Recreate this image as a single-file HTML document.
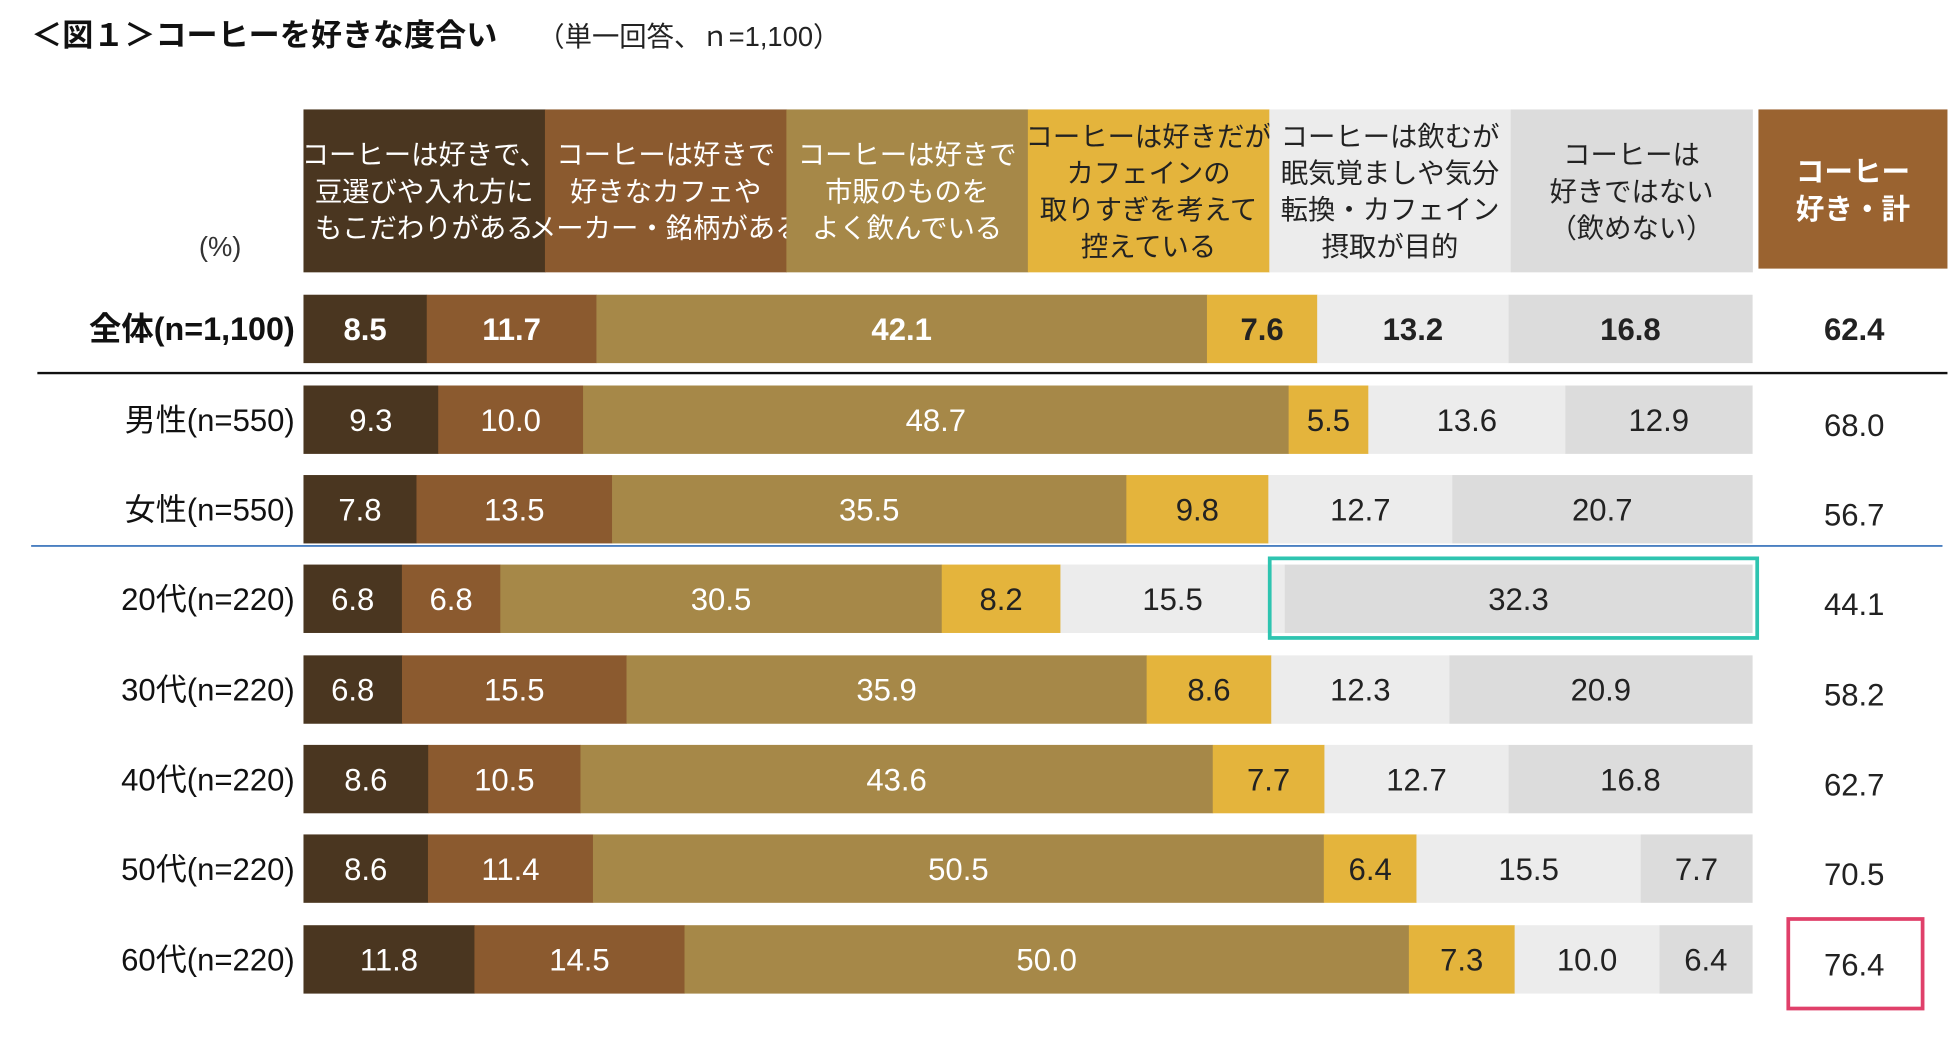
<!DOCTYPE html>
<html><head><meta charset="utf-8">
<style>
html,body{margin:0;padding:0;background:#fff;}
svg{display:block;font-family:"Liberation Sans","Noto Sans CJK JP",sans-serif;}
</style></head>
<body>
<svg id="chart" width="1950" height="1038" viewBox="0 0 1568 834.7" xmlns="http://www.w3.org/2000/svg">
<text x="25" y="37" font-size="25" font-weight="bold" fill="#111">＜図１＞コーヒーを好きな度合い</text>
<text x="432" y="37" font-size="22" fill="#222">（単一回答、ｎ=1,100）</text>
<text x="177" y="206" font-size="22" fill="#333" text-anchor="middle">(%)</text>
<g id="headers"></g>
<g id="rows"></g>
<line x1="30" y1="300" x2="1566" y2="300" stroke="#111" stroke-width="2"/>
<line x1="25" y1="439" x2="1562" y2="439" stroke="#4a7fc1" stroke-width="1.5"/>
<rect x="1021" y="449" width="392" height="64" fill="none" stroke="#2ec4b0" stroke-width="3"/>
<rect x="1438" y="739" width="108" height="72" fill="none" stroke="#e0406a" stroke-width="3"/>
</svg>
<script>
const categories = ["全体(n=1,100)","男性(n=550)","女性(n=550)","20代(n=220)","30代(n=220)","40代(n=220)","50代(n=220)","60代(n=220)"];
const seriesNames = [["コーヒーは好きで、","豆選びや入れ方に","もこだわりがある"],["コーヒーは好きで","好きなカフェや","メーカー・銘柄がある"],["コーヒーは好きで","市販のものを","よく飲んでいる"],["コーヒーは好きだが","カフェインの","取りすぎを考えて","控えている"],["コーヒーは飲むが","眠気覚ましや気分","転換・カフェイン","摂取が目的"],["コーヒーは","好きではない","（飲めない）"]];
const s1 = [8.5,9.3,7.8,6.8,6.8,8.6,8.6,11.8];
const s2 = [11.7,10.0,13.5,6.8,15.5,10.5,11.4,14.5];
const s3 = [42.1,48.7,35.5,30.5,35.9,43.6,50.5,50.0];
const s4 = [7.6,5.5,9.8,8.2,8.6,7.7,6.4,7.3];
const s5 = [13.2,13.6,12.7,15.5,12.3,12.7,15.5,10.0];
const s6 = [16.8,12.9,20.7,32.3,20.9,16.8,7.7,6.4];
const totals = [62.4,68.0,56.7,44.1,58.2,62.7,70.5,76.4];

const NS="http://www.w3.org/2000/svg";
const colors=["#4a3620","#8b5a2f","#a68848","#e4b43c","#ececec","#dcdcdc"];
const textColors=["#fff","#fff","#fff","#222","#222","#222"];
const series=[s1,s2,s3,s4,s5,s6];
const X0=244, W=1165, BAR_H=55;
const rowTops=[237,310,382,454,527,599,671,744];
function xScale(v,sum){return v/sum*W;}
function mk(tag,attrs){const e=document.createElementNS(NS,tag);for(const k in attrs)e.setAttribute(k,attrs[k]);return e;}

const hg=document.getElementById('headers');
const colW=W/6;
seriesNames.forEach((lines,i)=>{
  const r=mk('rect',{x:X0+i*colW,y:88,width:colW+0.5,height:131,fill:colors[i]});
  
  
  hg.appendChild(r);
  const cy=153.5, lh=29.5, start=cy-(lines.length-1)*lh/2;
  lines.forEach((ln,j)=>{
    const t=mk('text',{x:X0+i*colW+colW/2,y:start+j*lh+8,'font-size':22,'text-anchor':'middle',fill:textColors[i]});
    
    
    t.textContent=ln;hg.appendChild(t);
  });
});
const tb=mk('rect',{x:1414,y:88,width:152,height:128,fill:"#9a6330"});


hg.appendChild(tb);
["コーヒー","好き・計"].forEach((ln,j)=>{
  const t=mk('text',{x:1490,y:146+j*30,'font-size':23,'font-weight':'bold','text-anchor':'middle',fill:'#fff'});
  
  
  t.textContent=ln;hg.appendChild(t);
});

const rg=document.getElementById('rows');
categories.forEach((cat,ri)=>{
  const y=rowTops[ri];
  const bold=ri===0;
  const lab=mk('text',{x:237,y:y+BAR_H/2+9,'font-size':bold?26:25,'font-weight':bold?'bold':'normal','text-anchor':'end',fill:'#111'});
  
  
  lab.textContent=cat;rg.appendChild(lab);
  const sum=series.reduce((a,s)=>a+s[ri],0);
  let x=X0;
  series.forEach((s,si)=>{
    const w=xScale(s[ri],sum);
    const r=mk('rect',{x:x,y:y,width:w+0.3,height:BAR_H,fill:colors[si]});
    
    
    rg.appendChild(r);
    const t=mk('text',{x:x+w/2,y:y+BAR_H/2+9,'font-size':25,'font-weight':bold?'bold':'normal','text-anchor':'middle',fill:textColors[si]});
    
    
    t.textContent=s[ri].toFixed(1);rg.appendChild(t);
    x+=w;
  });
  const tt=mk('text',{x:1491,y:y+BAR_H/2+(bold?9:13),'font-size':25,'font-weight':bold?'bold':'normal','text-anchor':'middle',fill:'#222'});
  
  
  tt.textContent=totals[ri].toFixed(1);rg.appendChild(tt);
});
</script>
</body></html>
